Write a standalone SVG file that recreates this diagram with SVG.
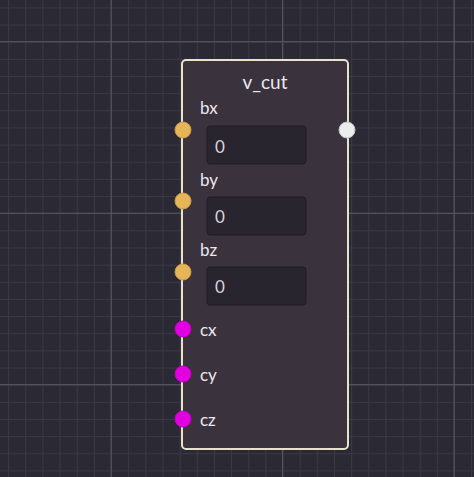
<svg xmlns="http://www.w3.org/2000/svg" width="474" height="477" viewBox="0 0 474 477">
<defs>
<pattern id="minor" x="8.1" y="7.4" width="17.15" height="17.15" patternUnits="userSpaceOnUse">
<path d="M0.5 0V17.15M0 0.5H17.15" stroke="#3b3946" stroke-width="1" fill="none"/>
</pattern>
<pattern id="major" x="110.6" y="41.2" width="171.5" height="171.5" patternUnits="userSpaceOnUse">
<path d="M0.5 0V171.5M0 0.5H171.5" stroke="#5a5864" stroke-width="1" fill="none"/>
</pattern>
</defs>
<style>
.lbl{font-family:Lato,"Liberation Sans",sans-serif;font-size:17px;fill:#ece8f0}
.title{font-family:Lato,"Liberation Sans",sans-serif;font-size:19px;fill:#ece8f0}
.box{fill:#29252f;stroke:#1f1c24;stroke-width:1}
.val{font-family:Lato,"Liberation Sans",sans-serif;font-size:17px;fill:#d8d4dc}
.pin-num{fill:#e6b558;stroke:#c9994a;stroke-width:1}
.pin-vec{fill:#e000e0;stroke:#c000c0;stroke-width:1}
.pin-out{fill:#ececec;stroke:#bdbdbd;stroke-width:1}
</style>
<rect width="474" height="477" fill="#2b2934"/>
<rect width="474" height="477" fill="url(#minor)"/>
<rect width="474" height="477" fill="url(#major)"/>
<g id="connectors"></g>
<g id="node-v_cut">
<rect x="182" y="60" width="166" height="389" rx="4" fill="#3a323d" stroke="#e6e2cc" stroke-width="2"/>
<text class="title" x="265" y="89" text-anchor="middle">v_cut</text>
<text class="lbl" x="200" y="114">bx</text>
<rect class="box" x="207" y="126" width="99" height="38" rx="3"/>
<text class="val" x="215" y="153">0</text>
<text class="lbl" x="200" y="186">by</text>
<rect class="box" x="207" y="197" width="99" height="38" rx="3"/>
<text class="val" x="215" y="223">0</text>
<text class="lbl" x="200" y="256">bz</text>
<rect class="box" x="207" y="267" width="99" height="38" rx="3"/>
<text class="val" x="215" y="293">0</text>
<text class="lbl" x="200" y="336">cx</text>
<text class="lbl" x="200" y="381">cy</text>
<text class="lbl" x="200" y="426">cz</text>
<circle class="pin-num" cx="183" cy="130" r="8"/>
<circle class="pin-num" cx="183" cy="201" r="8"/>
<circle class="pin-num" cx="183" cy="272" r="8"/>
<circle class="pin-vec" cx="183" cy="329" r="8"/>
<circle class="pin-vec" cx="183" cy="374" r="8"/>
<circle class="pin-vec" cx="183" cy="419" r="8"/>
<circle class="pin-out" cx="347" cy="130" r="8"/>
</g>
</svg>
